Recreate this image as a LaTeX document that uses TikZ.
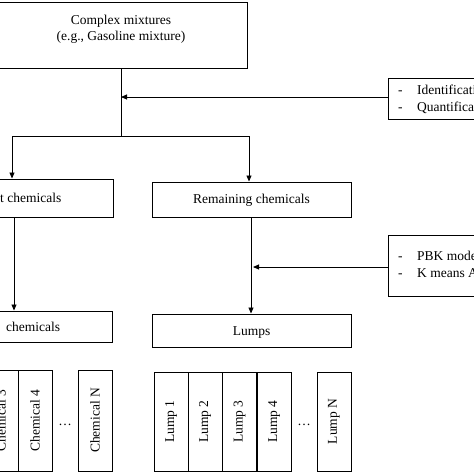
\documentclass[tikz,border=0pt]{standalone}
\usepackage{fontspec}
\setmainfont{Liberation Serif}
\usetikzlibrary{arrows.meta}
\begin{document}
\begin{tikzpicture}[x=1pt,y=-1pt,
  every node/.style={font=\fontsize{13.5}{16}\selectfont, inner sep=0pt},
  boxnode/.style={draw=black, line width=1pt, rectangle, inner sep=0pt},
  barnode/.style={draw=black, line width=1pt, rectangle, rotate=90, minimum height=34pt},
  txt/.style={inner sep=0pt},
  conn/.style={draw=black, line width=0.9pt},
  arr/.style={conn, -{Triangle[length=6pt,width=5pt]}}]
\useasboundingbox (0,0) rectangle (474,474);
\clip (0,0) rectangle (474,474);
% boxes
\node[boxnode, minimum width=252pt, minimum height=66pt] (top) at (121,35) {};
\node[txt] (toptxt1) at (121,21) {Complex mixtures};
\node[txt] (toptxt2) at (121,37) {(e.g., Gasoline mixture)};

\node[boxnode, minimum width=160pt, minimum height=41pt, anchor=north west] (ident) at (388,78) {};
\node[txt, anchor=base west] (identd1) at (398,94) {-};
\node[txt, anchor=base west] (identt1) at (417,94) {Identificati};
\node[txt, anchor=base west] (identd2) at (398,111) {-};
\node[txt, anchor=base west] (identt2) at (417,111) {Quantifica};

\node[boxnode, minimum width=202pt, minimum height=38pt] (imp) at (12,198) {};
\node[txt, anchor=base east] (imptxt) at (61.5,202) {t chemicals};

\node[boxnode, minimum width=199pt, minimum height=35pt] (rem) at (251.5,199.5) {};
\node[txt] (remtxt) at (251.5,200) {Remaining chemicals};

\node[boxnode, minimum width=160pt, minimum height=61pt, anchor=north west] (pbk) at (388,235) {};
\node[txt, anchor=base west] (pbkd1) at (398,260) {-};
\node[txt, anchor=base west] (pbkt1) at (417,260) {PBK mode};
\node[txt, anchor=base west] (pbkd2) at (398,277) {-};
\node[txt, anchor=base west] (pbkt2) at (417,277) {K means A};

\node[boxnode, minimum width=196pt, minimum height=31pt] (impb) at (14,326.5) {};
\node[txt, anchor=base west] (impbtxt) at (6,331) {chemicals};

\node[boxnode, minimum width=199pt, minimum height=33pt] (lumps) at (251.5,330.5) {};
\node[txt] (lumpstxt) at (251.5,333) {Lumps};

% bars
\node[barnode, minimum width=101pt] (c3) at (1,420.5) {Chemical 3};
\node[barnode, minimum width=101pt] (c4) at (35,420.5) {Chemical 4};
\node[txt] (cdots) at (65,425) {\dots};
\node[barnode, minimum width=101pt] (cN) at (95,420.5) {Chemical N};

\node[barnode, minimum width=99pt] (l1) at (171,421.5) {Lump 1};
\node[barnode, minimum width=99pt] (l2) at (205,421.5) {Lump 2};
\node[barnode, minimum width=99pt] (l3) at (239.5,421.5) {Lump 3};
\node[barnode, minimum width=99pt] (l4) at (274,421.5) {Lump 4};
\node[txt] (ldots) at (304,425) {\dots};
\node[barnode, minimum width=99pt] (lN) at (334,421.5) {Lump N};

% connectors
\coordinate (jn) at (121,136);
\coordinate (jm) at (121,97);
\coordinate (jr) at (253,267);
\draw[conn] (top.south -| jn) -- (jn);
\draw[arr] (jn) -| (imp.north -| 12,0);
\draw[arr] (jn) -| (rem.north -| 249,0);
\draw[arr] (ident.west |- jm) -- (jm);
\draw[arr] (imp.south -| 14,0) -- (impb.north -| 14,0);
\draw[arr] (rem.south -| 251,0) -- (lumps.north -| 251,0);
\draw[arr] (pbk.west |- jr) -- (jr);
\end{tikzpicture}
\end{document}
